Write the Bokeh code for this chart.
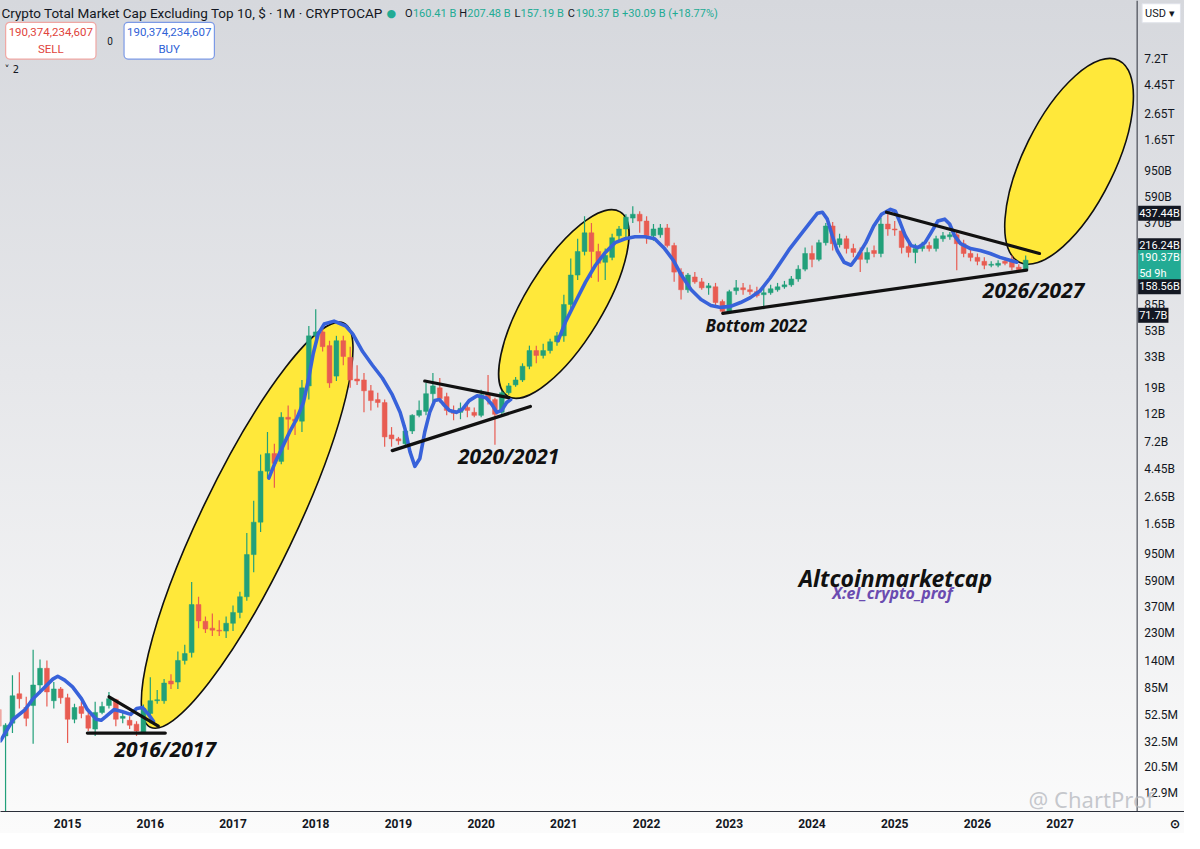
import math
import pandas as pd
from bokeh.plotting import figure
from bokeh.models import ColumnDataSource, FixedTicker, Label, Range1d, Span
from bokeh.core.properties import value
from bokeh.embed import file_html
from bokeh.resources import INLINE

# ---------------- data (values in millions of USD) ----------------
first_month = "2014-03"

open_m = [57.9, 36.0, 45.3, 76.9, 60.0, 62.2, 90.1, 121.7, 67.9, 83.9,
          71.6, 48.6, 61.1, 52.1, 40.7, 55.0, 62.2, 69.1, 49.4, 47.7, 44.5, 38.6,
          54.0, 67.9, 67.9, 96.7, 95.0, 140.2, 161.5, 384, 284, 251, 242, 238,
          274, 333, 442, 945, 1694, 4245, 5836, 5065, 11220, 10834, 10453, 19749,
          48677, 52205, 40788, 23570, 44564, 32987, 22362, 21977, 18082, 15431, 14630, 8160,
          7608, 6965, 8760, 11619, 12478, 17155, 19070, 16264, 12696, 12260, 13390, 12260,
          11619, 17155, 15431, 12260, 17460, 20114, 21977, 28127, 37340, 34183, 37340, 43744,
          48677, 85670, 145600, 222540, 311410, 222540, 183280, 200170, 295300, 333980, 406050, 435470,
          384900, 295300, 300560, 340190, 247400, 153530, 111700, 140590, 128720, 115680, 117810, 90370,
          75720, 109750, 115680, 111700, 107860, 102200, 105840, 111700, 117810, 122000, 135670, 161830,
          214680, 193180, 261010, 352300, 251800, 279920, 234560, 218720, 193180, 226500, 214680, 364840,
          333980, 322500, 243080, 218720, 234560, 247400, 234560, 279920, 290130, 300560, 256210, 214680,
          200170, 186480, 173700, 173700, 186480, 193180, 167730, 160410]

high_m = [61.1, 45.3, 107.5, 113.4, 72.9, 170.3, 142.7, 140.2, 95.0, 87.0,
          76.9, 64.4, 66.7, 55.9, 66.7, 66.7, 79.6, 70.4, 55.9, 51.2, 46.9, 63.3,
          103.8, 82.5, 100.2, 109.4, 165.0, 186.0, 576, 442, 310, 327, 289, 310,
          377, 483, 1394, 2498, 5730, 8607, 6965, 12260, 13867, 12930, 21977, 58092,
          78420, 57030, 44564, 48677, 48677, 40047, 28640, 24860, 20114, 17460, 15431, 9403,
          7879, 9738, 11830, 15151, 20830, 24860, 22760, 17460, 13867, 14630, 14127, 13390,
          18414, 24005, 15980, 18082, 20830, 23165, 29660, 40788, 40788, 42240, 46150, 52205,
          102200, 196560, 279920, 420500, 371670, 256210, 234560, 305810, 352300, 435470, 501800, 459300,
          420500, 364840, 364840, 364840, 261010, 164660, 150780, 153530, 138040, 126340, 126340, 93590,
          111700, 133300, 126340, 122000, 117810, 115680, 122000, 126340, 130970, 143050, 173700, 238900,
          247400, 275110, 371670, 378170, 305810, 295300, 256210, 238900, 238900, 247400, 406050, 435470,
          384900, 352300, 270300, 256210, 265580, 265580, 295300, 316860, 316860, 316860, 275110, 230530,
          214680, 200170, 186480, 189800, 200170, 207300, 176790, 207480]

low_m = [39.3, 8.0, 37.9, 59.0, 42.9, 31.2, 76.9, 61.1, 59.0, 64.4,
         31.7, 45.3, 49.4, 39.3, 36.0, 53.1, 59.0, 42.9, 45.3, 40.7, 36.0, 37.3,
         45.3, 64.4, 64.4, 83.9, 83.9, 130.6, 148, 251, 230, 218, 218, 210,
         238, 300, 412, 687, 1419, 3752, 3144, 4802, 6259, 8160, 8607, 15431,
         42240, 36660, 19070, 21572, 28640, 19070, 20114, 12260, 12696, 13390, 6603, 6603,
         6838, 6603, 8311, 11220, 11619, 14630, 14630, 11619, 10636, 10834, 11220, 11220,
         11220, 14127, 6838, 11830, 16860, 19410, 21201, 26685, 29660, 32410, 35400, 40788,
         43744, 78420, 133300, 207300, 138040, 128720, 133300, 189800, 270300, 285150, 371670, 311410,
         256210, 270300, 285150, 238900, 128720, 93590, 105840, 124170, 111700, 102200, 82720, 71790,
         73000, 102200, 102200, 102200, 96920, 78420, 102200, 107860, 113690, 117810, 128720, 156220,
         167730, 186480, 247400, 226500, 238900, 214680, 200170, 153530, 179880, 200170, 200170, 295300,
         295300, 214680, 200170, 179880, 222540, 222540, 222540, 265580, 275110, 159000, 200170, 186480,
         173700, 161830, 167730, 167730, 173700, 159000, 152000, 157190]

close_m = [42.9, 43.7, 74.2, 70.4, 49.4, 90.1, 121.7, 79.6, 83.9, 71.6,
           48.6, 60.0, 54.0, 41.4, 55.0, 61.1, 70.4, 48.6, 51.2, 43.7, 39.3, 59.0,
           67.9, 69.1, 93.3, 91.7, 140.2, 158.7, 384, 286, 247, 242, 238, 274,
           333, 442, 945, 1694, 4245, 5836, 4891, 11220, 10834, 10453, 19070, 48677,
           52205, 40047, 20830, 44564, 33564, 21977, 21572, 18082, 15151, 14630, 7879, 7608,
           7341, 8760, 11619, 12696, 17155, 19749, 15700, 12696, 12046, 13156, 12696, 11619,
           16860, 15431, 11830, 17460, 19749, 21977, 28127, 37340, 34183, 37340, 43744, 48677,
           85670, 145600, 222540, 311410, 222540, 179880, 207300, 285150, 333980, 413150, 435470, 384900,
           295300, 333980, 340190, 247400, 153530, 111700, 145600, 128720, 115680, 119870, 88720, 75720,
           107860, 115680, 111700, 107860, 100410, 105840, 113690, 117810, 122000, 135670, 161830, 214680,
           193180, 261010, 352300, 256210, 279920, 234560, 218720, 193180, 218720, 214680, 364840, 333980,
           328240, 238900, 218720, 234560, 247400, 234560, 279920, 295300, 300560, 256210, 214680, 200170,
           186480, 173700, 176790, 179880, 179880, 167730, 160410, 190370]

# blue smoothed line (three visible pieces)
ma_a_year = [2014.189, 2014.344, 2014.487, 2014.582, 2014.702, 2014.821, 2014.881, 2014.964, 2015.060,
             2015.167, 2015.239, 2015.346, 2015.406, 2015.465, 2015.561, 2015.656, 2015.763, 2015.835,
             2015.907, 2015.978, 2016.038]
ma_a_m = [32.9, 48.6, 57.9, 70.4, 83.9, 100.2, 105.6, 98.4, 87.0, 70.4, 57.9, 48.6, 47.7, 51.2, 57.9,
          55.9, 53.1, 59.0, 60.0, 53.1, 46.9]
ma_b_year = [2017.433, 2017.505, 2017.589, 2017.684, 2017.768, 2017.851, 2017.911, 2017.970, 2018.030,
             2018.102, 2018.221, 2018.364, 2018.447, 2018.567, 2018.686, 2018.805, 2018.925, 2019.020,
             2019.080, 2019.139, 2019.199, 2019.259, 2019.318, 2019.378, 2019.438, 2019.497, 2019.557,
             2019.617, 2019.700, 2019.772, 2019.855, 2019.951, 2020.058, 2020.130, 2020.189, 2020.249,
             2020.308, 2020.356]
ma_b_m = [3752, 4891, 6376, 8607, 10834, 14630, 21977, 35400, 50410, 60160, 63460, 58090, 50410, 36660,
          28640, 22760, 16860, 12260, 9080, 6044, 4637, 5343, 8607, 12260, 15151, 15431, 13867, 12696,
          12260, 12930, 15151, 16549, 15980, 14127, 12260, 12696, 14630, 15431]
ma_c_year = [2020.929, 2021.024, 2021.143, 2021.263, 2021.382, 2021.501, 2021.620, 2021.740, 2021.859,
             2021.978, 2022.098, 2022.217, 2022.324, 2022.420, 2022.539, 2022.658, 2022.778, 2022.897,
             2023.016, 2023.136, 2023.255, 2023.374, 2023.493, 2023.613, 2023.732, 2023.851, 2023.971,
             2024.066, 2024.126, 2024.185, 2024.245, 2024.305, 2024.388, 2024.472, 2024.543, 2024.651,
             2024.746, 2024.841, 2024.949, 2025.008, 2025.068, 2025.128, 2025.199, 2025.283, 2025.366,
             2025.438, 2025.521, 2025.605, 2025.664, 2025.724, 2025.796, 2025.915, 2026.034, 2026.154,
             2026.273, 2026.392, 2026.476]
ma_c_m = [44564, 63460, 90370, 128720, 173700, 218720, 261010, 279920, 290130, 290130, 279920, 234560,
          189800, 145600, 111700, 93590, 84170, 81250, 82720, 88720, 96920, 109750, 138040, 179880,
          234560, 295300, 371670, 443510, 451400, 398600, 295300, 226500, 183280, 173700, 200170, 261010,
          352300, 435470, 475650, 459300, 371670, 295300, 247400, 238900, 261010, 311410, 384900, 398600,
          364840, 295300, 256210, 234560, 226500, 214680, 200170, 189800, 183280]

# drawn trend lines
trend_year_start = [2015.239, 2015.501, 2018.925, 2019.318, 2022.921, 2024.901]
trend_m_start = [37.9, 72.9, 6152, 21572, 73070, 451400]
trend_year_end = [2016.181, 2016.097, 2020.595, 2020.332, 2026.595, 2026.750]
trend_m_end = [37.9, 42.9, 13628, 15980, 159000, 214680]

# drawn ellipses (centres)
ellipse_year = [2017.171, 2021.000, 2027.108]
ellipse_m = [1606, 86400, 1130000]

# axes
y_tick_values = [12.9e6, 20.5e6, 32.5e6, 52.5e6, 85e6, 140e6, 230e6, 370e6, 590e6, 950e6,
                 1.65e9, 2.65e9, 4.45e9, 7.2e9, 12e9, 19e9, 33e9, 53e9, 85e9, 140e9, 230e9,
                 370e9, 590e9, 950e9, 1.65e12, 2.65e12, 4.45e12, 7.2e12]
y_tick_labels = ["12.9M", "20.5M", "32.5M", "52.5M", "85M", "140M", "230M", "370M", "590M", "950M",
                 "1.65B", "2.65B", "4.45B", "7.2B", "12B", "19B", "33B", "53B", "85B", "140B", "230B",
                 "370B", "590B", "950B", "1.65T", "2.65T", "4.45T", "7.2T"]
x_tick_years = list(range(2015, 2028))

price_flags = ["437.44B", "216.24B", "190.37B\n5d 9h", "158.56B", "71.7B"]

# ---------------- layout / calibration (reference pixels) ----------------
M = 1e6
PX_PER_YEAR = 83.83
PX_PER_DECADE = 130.3


def ax(px):
    return 2015 + (px - 68) / PX_PER_YEAR


def ay(py):
    return 10 ** (math.log10(12.9e6) + (808 - py) / PX_PER_DECADE)


UP = "#22a07a"
DOWN = "#e85c52"
AXIS_X = ax(1152)

months = pd.period_range(first_month, periods=len(open_m), freq="M")
cx = [m.year + (m.month - 1) / 12 for m in months]
o = [v * M for v in open_m]
h = [v * M for v in high_m]
lo = [v * M for v in low_m]
c = [v * M for v in close_m]
colors = [UP if cc >= oo else DOWN for oo, cc in zip(o, c)]
src = ColumnDataSource(dict(x=cx, high=h, low=lo, top=[max(a, b) for a, b in zip(o, c)],
                            bottom=[min(a, b) for a, b in zip(o, c)], color=colors))

p = figure(frame_width=1184, frame_height=811,
           x_range=Range1d(ax(0), ax(1200)), y_range=Range1d(ay(827), ay(0)),
           y_axis_type="log", y_axis_location=None,
           toolbar_location=None, output_backend="svg",
           min_border_left=0, min_border_top=0, min_border_right=0, min_border_bottom=22)
p.background_fill_alpha = 0
p.border_fill_alpha = 0
p.outline_line_color = None
p.styles = {"background": "linear-gradient(to bottom, #d6d8dd 0%, #e6e7ea 45%, #fbfbfb 100%)"}
p.xgrid.visible = False
p.ygrid.visible = False

# bottom (time) axis, with the settings icon at its right end
gear_x = ax(1190)
p.xaxis.ticker = FixedTicker(ticks=x_tick_years + [gear_x], minor_ticks=[])
p.xaxis.major_label_overrides = {gear_x: "\u2299"}
p.xaxis.axis_line_color = "#2a2e39"
p.xaxis.major_tick_line_color = None
p.xaxis.minor_tick_line_color = None
p.xaxis.major_tick_out = 0
p.xaxis.major_label_standoff = 5
p.xaxis.major_label_text_font = "Roboto"
p.xaxis.major_label_text_font_size = "12px"
p.xaxis.major_label_text_font_style = "bold"
p.xaxis.major_label_text_color = "#131722"

# price scale on the right
p.add_layout(Span(location=AXIS_X, dimension="height", line_color="#2a2e39", line_width=1))
p.text(x=[AXIS_X] * len(y_tick_values), y=y_tick_values, text=y_tick_labels,
       x_offset=7, text_align="left", text_baseline="middle",
       text_font=value("Roboto"), text_font_size=value("12px"), text_color="#131722")

# ellipses
ell_src = ColumnDataSource(dict(x=ellipse_year, y=[v * M for v in ellipse_m],
                                w=[448, 216, 225], hh=[95, 77, 91],
                                a=[math.radians(d) for d in (64.4, 58.6, 63.75)]))
p.ellipse(x="x", y="y", width="w", height="hh", angle="a", width_units="screen",
          height_units="screen", fill_color="#ffe83a", line_color="#111111", line_width=1.6,
          source=ell_src)

# candles
p.segment(x0="x", y0="high", x1="x", y1="low", line_color="color", line_width=1.2, source=src)
p.vbar(x="x", width=0.058, top="top", bottom="bottom", fill_color="color", line_color="color",
       line_width=0.5, source=src)

# blue line
for yrs, vals in ((ma_a_year, ma_a_m), (ma_b_year, ma_b_m), (ma_c_year, ma_c_m)):
    p.line(yrs, [v * M for v in vals], line_color="#3862da", line_width=3.6,
           line_join="round", line_cap="round")

# trend lines
p.segment(x0=trend_year_start, y0=[v * M for v in trend_m_start],
          x1=trend_year_end, y1=[v * M for v in trend_m_end],
          line_color="#111111", line_width=3.2, line_cap="round")

# annotation texts
ann = [("2016/2017", 167, 763, "21px", "#111111"),
       ("2020/2021", 515, 464, "21px", "#111111"),
       ("Bottom 2022", 766, 331, "17px", "#111111"),
       ("2026/2027", 1047, 295, "21px", "#111111"),
       ("Altcoinmarketcap", 907, 589, "23px", "#111111"),
       ("X:el_crypto_prof", 904, 604, "16px", "#6a4bb0")]
for t, px, py, fs, col in ann:
    p.add_layout(Label(x=ax(px), y=ay(py), text=t, text_align="center", text_baseline="middle",
                       text_font="Noto Sans", text_font_style="bold italic", text_font_size=fs,
                       text_color=col))

# header
p.add_layout(Label(x=ax(1), y=ay(13), text="Crypto Total Market Cap Excluding Top 10, $ \u00b7 1M \u00b7 CRYPTOCAP",
                   text_align="left", text_baseline="middle", text_font="Roboto",
                   text_font_size="13.5px", text_color="#131722"))
p.add_layout(Label(x=ax(396), y=ay(13), text="\u25cf", text_align="center", text_baseline="middle",
                   text_font="DejaVu Sans", text_font_size="11px", text_color="#22ab94"))
hdr = [("O", 410, "#131722"), ("160.41 B", 418, "#22ab94"),
       ("H", 465, "#131722"), ("207.48 B", 473, "#22ab94"),
       ("L", 521, "#131722"), ("157.19 B", 527, "#22ab94"),
       ("C", 575, "#131722"), ("190.37 B", 583, "#22ab94"),
       ("+30.09 B (+18.77%)", 630, "#22ab94")]
for t, px, col in hdr:
    p.add_layout(Label(x=ax(px), y=ay(13), text=t, text_align="left", text_baseline="middle",
                       text_font="Roboto", text_font_size="11px", text_color=col))

p.add_layout(Label(x=ax(51), y=ay(41), text="190,374,234,607\nSELL", text_align="center",
                   text_baseline="middle", text_font="Roboto", text_font_size="11.5px",
                   text_color="#e0443c", background_fill_color="white", border_line_color="#f0a7a3",
                   border_line_width=1.2, border_radius=4, padding=3))
p.add_layout(Label(x=ax(111), y=ay(41), text="0", text_align="center", text_baseline="middle",
                   text_font="Roboto", text_font_size="10px", text_color="#131722"))
p.add_layout(Label(x=ax(171), y=ay(41), text="190,374,234,607\nBUY", text_align="center",
                   text_baseline="middle", text_font="Roboto", text_font_size="11.5px",
                   text_color="#2f62d6", background_fill_color="white", border_line_color="#7c9ae6",
                   border_line_width=1.2, border_radius=4, padding=3))
p.add_layout(Label(x=ax(4), y=ay(70), text="\u02c5 2", text_align="left", text_baseline="middle",
                   text_font="DejaVu Sans", text_font_size="10px", text_color="#131722"))

# price flags on the scale
flag_py = [217, 250, 270, 292, 321]
flag_bg = ["#131722", "#131722", "#22ab94", "#131722", "#131722"]
for t, py, bg in zip(price_flags, flag_py, flag_bg):
    p.add_layout(Label(x=AXIS_X, y=ay(py), x_offset=1, text=t, text_align="left",
                       text_baseline="middle", text_font="Roboto", text_font_size="11px",
                       text_color="white", background_fill_color=bg, padding=1))

p.add_layout(Label(x=ax(1157), y=ay(13), text="USD  \u25be", text_align="left", text_baseline="middle",
                   text_font="Roboto", text_font_size="11px", text_color="#131722",
                   background_fill_color="white", border_line_color="#e0e3eb", padding=3))
p.add_layout(Label(x=ax(1042), y=ay(814), text="@ ChartProf", text_align="left", text_baseline="middle",
                   text_font="Noto Sans", text_font_size="22px", text_color="#b4b7bd", text_alpha=0.75))

open("out.html", "w").write(file_html(p, INLINE))
